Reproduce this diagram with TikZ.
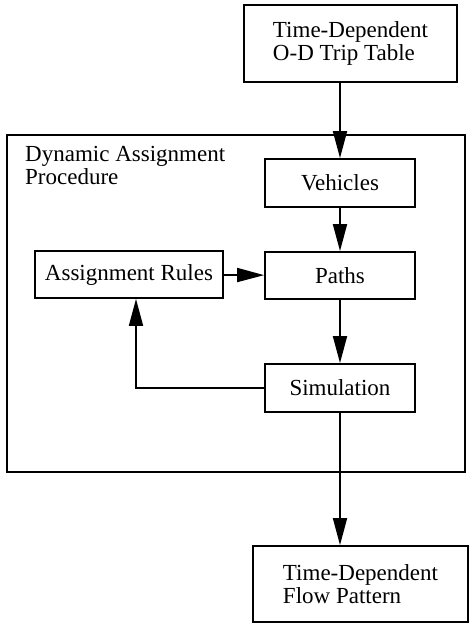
\documentclass[tikz,border=0pt]{standalone}
\usepackage{fontspec}
\setmainfont{Liberation Serif}
\usetikzlibrary{arrows.meta, positioning, calc}

\begin{document}
\begin{tikzpicture}[
    x=1pt, y=-1pt,
    box/.style={draw, line width=1.8pt, align=left, inner sep=0pt,
                font=\fontsize{23}{23}\selectfont},
    arr/.style={-{Triangle[length=27pt, width=14pt]}, line width=1.8pt},
    lbl/.style={font=\fontsize{23}{23}\selectfont, align=left, inner sep=0pt}
]
\useasboundingbox (0,0) rectangle (474,629);

% outer procedure frame
\node[draw, line width=1.8pt, minimum width=458pt, minimum height=337pt]
    (proc) at (236,303.5) {};
\node[lbl, anchor=north west] (proclbl) at (25,146)
    {Dynamic Assignment\\Procedure};

\node[box, minimum width=213pt, minimum height=77pt] (odtable) at (350.5,43.5)
    {Time-Dependent\\O-D Trip Table\hspace*{6pt}};

\node[box, minimum width=150pt, minimum height=48pt] (vehicles) at (340,183)
    {Vehicles};
\node[box, minimum width=150pt, minimum height=47pt] (paths) at (340,275.5)
    {Paths};
\node[box, minimum width=188pt, minimum height=47pt] (rules) at (129,274.5)
    {Assignment Rules};
\node[box, minimum width=150pt, minimum height=48pt] (sim) at (340,388)
    {Simulation};

\node[box, minimum width=215pt, minimum height=76pt] (flow) at (360.5,584)
    {Time-Dependent\\Flow Pattern};

\draw[arr] (vehicles.north |- odtable.south) -- (vehicles.north);
\draw[arr] (vehicles) -- (paths);
\draw[arr] (rules) -- (paths);
\draw[arr] (paths) -- (sim);
\draw[arr] (sim.west) -| ([xshift=7pt]rules.south);
\draw[arr] (sim.south) -- (sim.south |- flow.north);

\end{tikzpicture}
\end{document}
